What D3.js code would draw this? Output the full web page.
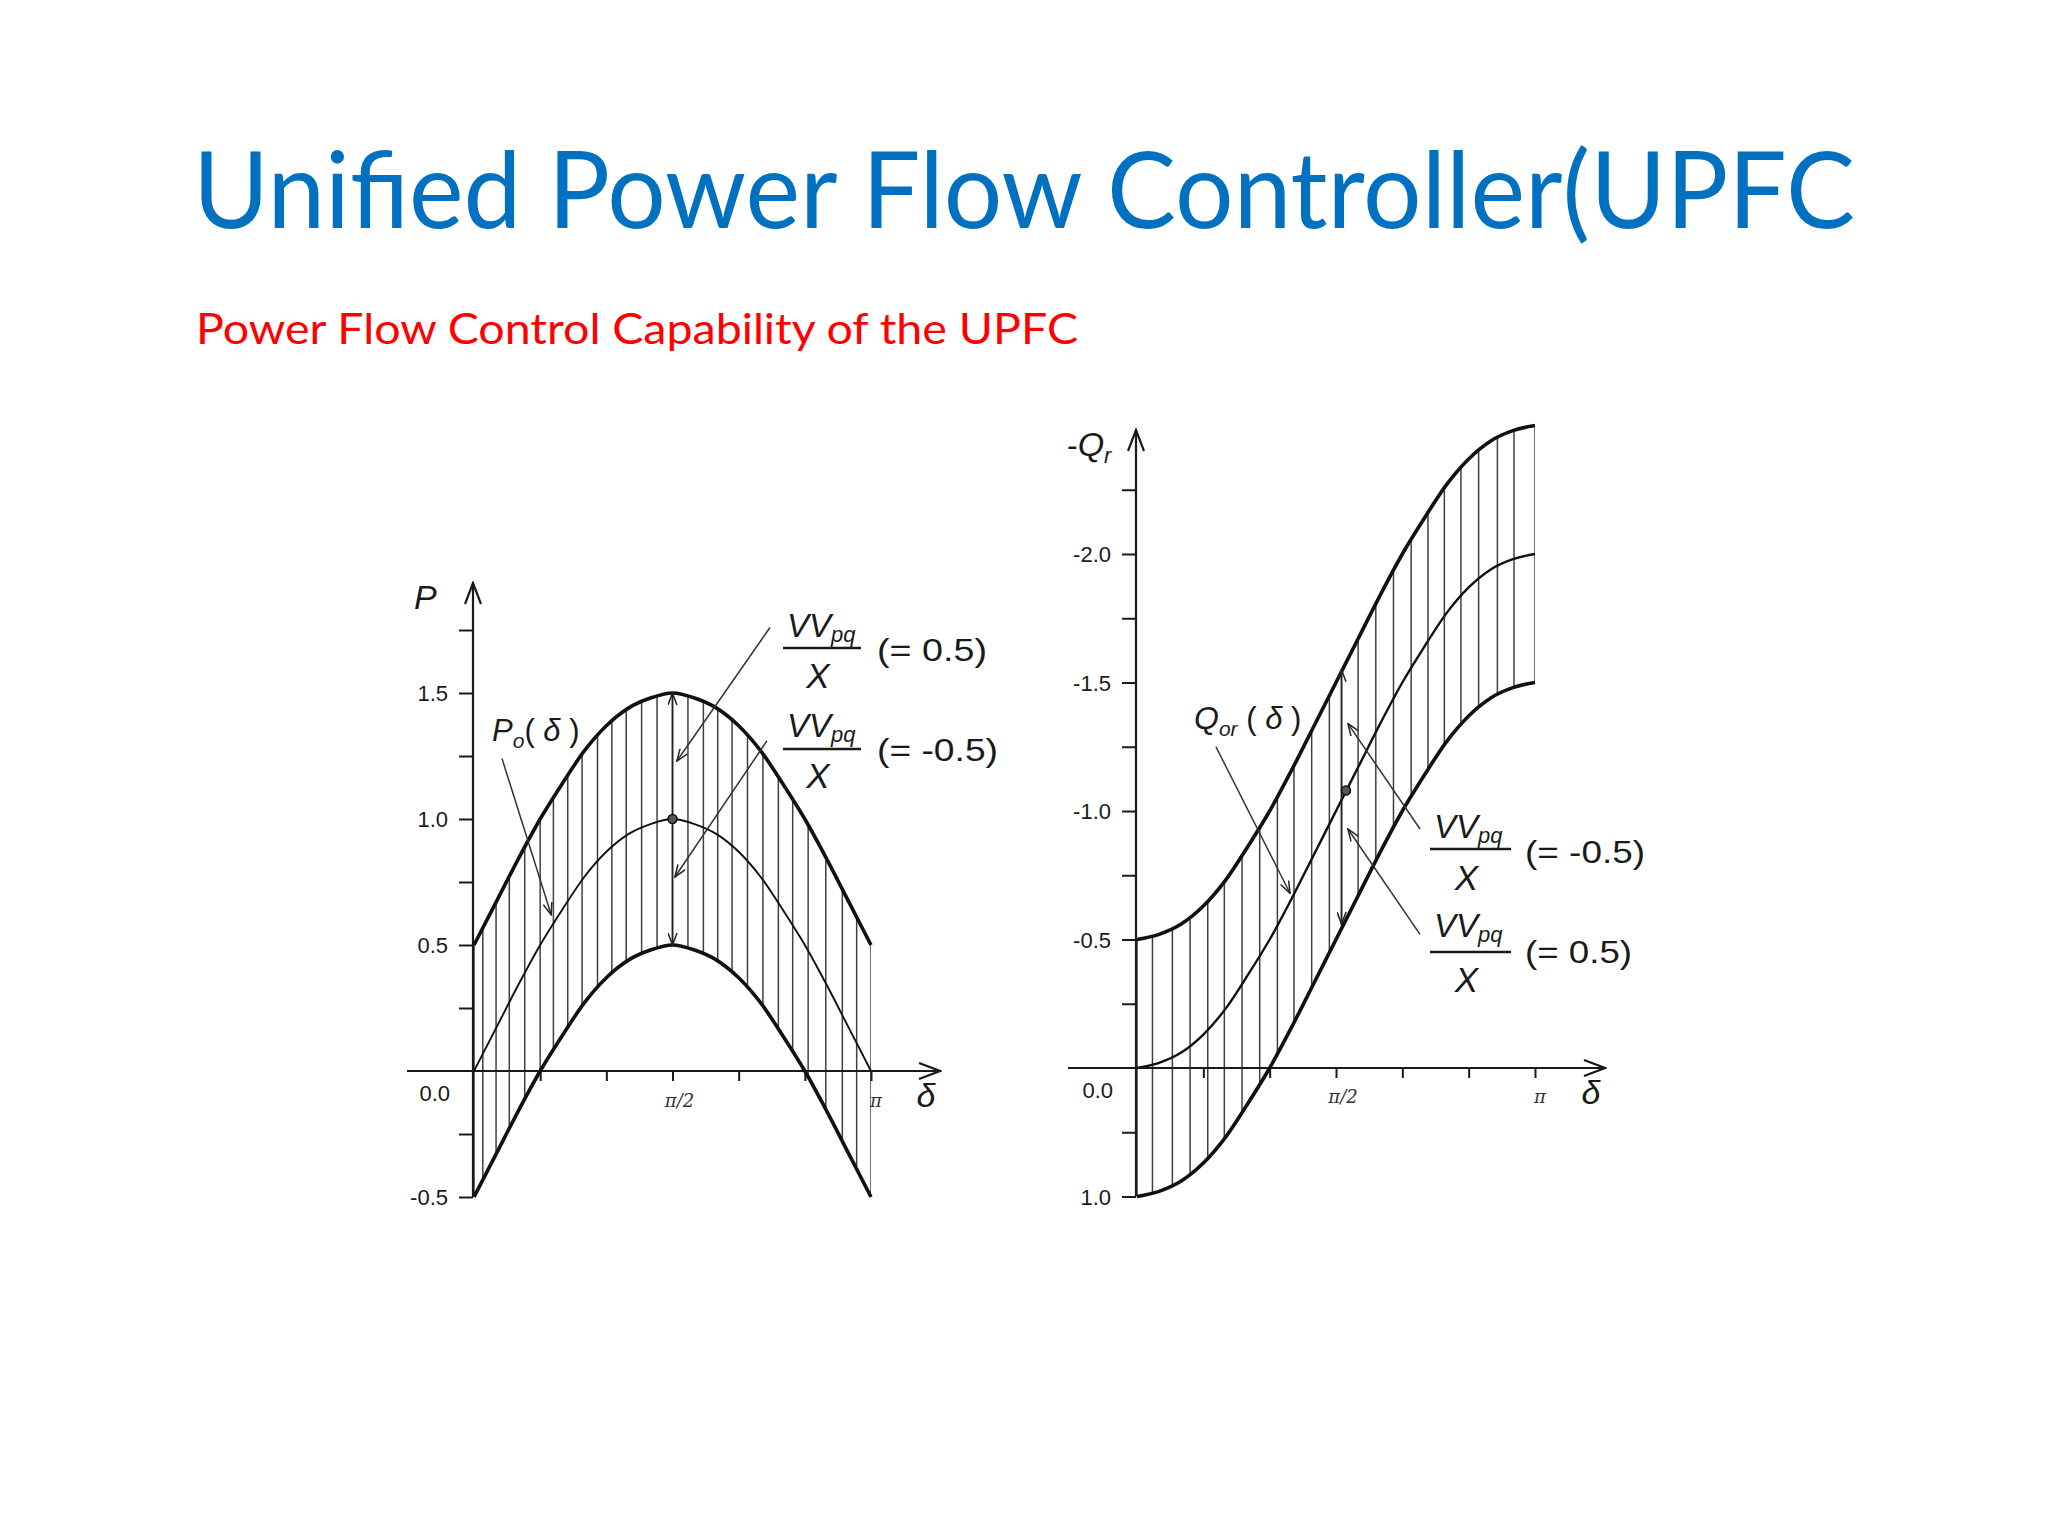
<!DOCTYPE html>
<html>
<head>
<meta charset="utf-8">
<script src="https://cdn.jsdelivr.net/npm/d3@7/dist/d3.min.js"></script>
<style>
  html, body { margin: 0; padding: 0; background: #ffffff; }
  svg { display: block; }
</style>
</head>
<body>
<script>
// ---------------- DATA ----------------
const deltaDeg = [0,10,20,30,40,50,60,70,80,90,100,110,120,130,140,150,160,170,180];

// Left panel: P(δ)
const pMid   = [0.00,0.17,0.34,0.50,0.64,0.77,0.87,0.94,0.98,1.00,0.98,0.94,0.87,0.77,0.64,0.50,0.34,0.17,0.00];
const pUpper = [0.50,0.67,0.84,1.00,1.14,1.27,1.37,1.44,1.48,1.50,1.48,1.44,1.37,1.27,1.14,1.00,0.84,0.67,0.50];
const pLower = [-0.50,-0.33,-0.16,0.00,0.14,0.27,0.37,0.44,0.48,0.50,0.48,0.44,0.37,0.27,0.14,0.00,-0.16,-0.33,-0.50];

// Right panel: -Qr(δ)
const qMid   = [0.00,0.02,0.06,0.13,0.23,0.36,0.50,0.66,0.83,1.00,1.17,1.34,1.50,1.64,1.77,1.87,1.94,1.98,2.00];
const qUpper = [0.50,0.52,0.56,0.63,0.73,0.86,1.00,1.16,1.33,1.50,1.67,1.84,2.00,2.14,2.27,2.37,2.44,2.48,2.50];
const qLower = [-0.50,-0.48,-0.44,-0.37,-0.27,-0.14,0.00,0.16,0.33,0.50,0.67,0.84,1.00,1.14,1.27,1.37,1.44,1.48,1.50];

// Hatch line positions (degrees)
const pHatch = [0,4,10,16,23,30,36,42.5,49,56,62.5,69,76,83,90,97,104,110.5,117,124,131,138,144.5,151.5,159.5,167,173.5,180];
const qHatch = [0,7,16,24,32,39.5,47.5,55.5,63.5,71,79,87,92.5,100,108,116,124,131.6,139,146.5,154.5,163,170.5,180];

// Ticks
const pTickValues = [-0.5,-0.25,0.25,0.5,0.75,1.0,1.25,1.5,1.75];
const pTickLabels = {"-0.5":"-0.5","0.5":"0.5","1":"1.0","1.5":"1.5"};
const qTickValues = [-0.5,-0.25,0.25,0.5,0.75,1.0,1.25,1.5,1.75,2.0,2.25];
const qTickLabels = {"-0.5":"1.0","0.5":"-0.5","1":"-1.0","1.5":"-1.5","2":"-2.0"};
const xTickValues = [30,60,90,120,150,180];
const xTickLabels = {"90":"π/2","180":"π"};

// Annotations (data coordinates: [δ, value])
const pArrows = [
  {from:[12.7,1.24], to:[35.0,0.62]},   // Po(δ)
  {from:[134.2,1.76], to:[92.0,1.23]},  // VVpq/X (=0.5)
  {from:[132.8,1.31], to:[91.1,0.77]}   // VVpq/X (=-0.5)
];
const pDouble = {d:90, top:1.5, bottom:0.5};
const pDot = [90, 1.0];

const qArrows = [
  {from:[35.7,1.25], to:[69.2,0.68]},   // Qor(δ)
  {from:[128.0,0.93], to:[95.4,1.34]},  // (=-0.5)
  {from:[128.0,0.52], to:[95.4,0.93]}   // (=0.5)
];
const qDouble = {d:92.5, top:1.55, bottom:0.56};
const qDot = [94.5, 1.08];

// ---------------- DRAW ----------------
const W = 2048, H = 1536;
const svg = d3.select("body").append("svg").attr("width", W).attr("height", H);
const defs = svg.append("defs");

defs.append("marker").attr("id","axh")
  .attr("viewBox","0 0 24 18").attr("refX",22).attr("refY",9)
  .attr("markerWidth",24).attr("markerHeight",18)
  .attr("markerUnits","userSpaceOnUse").attr("orient","auto")
  .append("path").attr("d","M1,1 L22,9 L1,17").attr("fill","none")
  .attr("stroke","#1a1a1a").attr("stroke-width",2.2);

defs.append("marker").attr("id","ah")
  .attr("viewBox","0 0 14 10").attr("refX",13).attr("refY",5)
  .attr("markerWidth",14).attr("markerHeight",10)
  .attr("markerUnits","userSpaceOnUse").attr("orient","auto-start-reverse")
  .append("path").attr("d","M1,0.5 L13,5 L1,9.5").attr("fill","none")
  .attr("stroke","#222").attr("stroke-width",1.5);

// Title & subtitle
svg.append("text").attr("x",193).attr("y",228)
  .attr("font-family","Lato, 'Open Sans', sans-serif").attr("font-size",106)
  .attr("fill","#0070C0").attr("textLength",1662).attr("lengthAdjust","spacingAndGlyphs")
  .text("Unified Power Flow Controller(UPFC");
svg.append("text").attr("x",196).attr("y",344)
  .attr("font-family","Lato, 'Open Sans', sans-serif").attr("font-size",42)
  .attr("fill","#FF0000").attr("textLength",882).attr("lengthAdjust","spacingAndGlyphs")
  .text("Power Flow Control Capability of the UPFC");

const ink = "#1a1a1a";
const sansF = "'Liberation Sans', Arial, Helvetica, sans-serif";

function panel(cfg) {
  const x = d3.scaleLinear().domain([0,180]).range(cfg.xr);
  const y = d3.scaleLinear().domain([0,1]).range(cfg.yr);
  const g = svg.append("g");
  const pts = arr => deltaDeg.map((d,i) => [d, arr[i]]);

  // clip region between curves
  const area = d3.area().x((d,i)=>x(deltaDeg[i])).y0((d,i)=>y(cfg.lower[i])).y1((d,i)=>y(cfg.upper[i]))
    .curve(d3.curveMonotoneX);
  defs.append("clipPath").attr("id", cfg.id + "clip")
    .append("path").attr("d", area(deltaDeg));

  // hatch lines
  g.append("g").attr("clip-path", `url(#${cfg.id}clip)`)
    .selectAll("line").data(cfg.hatch).join("line")
    .attr("x1", d=>x(d)).attr("x2", d=>x(d))
    .attr("y1", y(cfg.yMax)).attr("y2", y(cfg.yMin))
    .attr("stroke","#404040").attr("stroke-width",1.5);

  // y axis ticks
  const ya = d3.axisLeft(y).tickValues(cfg.yTicks).tickSize(14).tickPadding(11)
    .tickFormat(v => cfg.yLabels[String(v)] || "");
  const yg = g.append("g").attr("transform",`translate(${cfg.axisX},0)`).call(ya);
  yg.select(".domain").remove();
  yg.selectAll(".tick line").attr("stroke",ink).attr("stroke-width",2);
  yg.selectAll(".tick text").attr("font-family",sansF).attr("font-size",22).attr("fill",ink)
    .attr("dy","0.36em");

  // x axis ticks
  const xa = d3.axisBottom(x).tickValues(xTickValues).tickSize(10).tickFormat("");
  const xg = g.append("g").attr("transform",`translate(0,${y(0)})`).call(xa);
  xg.select(".domain").remove();
  xg.selectAll(".tick line").attr("stroke",ink).attr("stroke-width",2);

  // x tick labels
  g.selectAll(".xlab").data(xTickValues.filter(v => xTickLabels[String(v)])).join("text")
    .attr("x", d => x(d) + (d===90 ? 7 : 5)).attr("y", y(0) + cfg.xLabDy)
    .attr("text-anchor","middle")
    .attr("font-family","'DejaVu Serif', serif").attr("font-style","italic").attr("font-size",18)
    .attr("fill","#333").text(d => xTickLabels[String(d)]);

  // axis lines with arrows
  g.append("line").attr("x1",cfg.axisX).attr("x2",cfg.axisX)
    .attr("y1", y(cfg.yMin)).attr("y2", cfg.yTip)
    .attr("stroke",ink).attr("stroke-width",2.2).attr("marker-end","url(#axh)");
  g.append("line").attr("x1",cfg.xStart).attr("x2",cfg.xTip)
    .attr("y1", y(0)).attr("y2", y(0))
    .attr("stroke",ink).attr("stroke-width",2.2).attr("marker-end","url(#axh)");

  // zero label
  g.append("text").attr("x",cfg.axisX - 23).attr("y", y(0) + 30).attr("text-anchor","end")
    .attr("font-family",sansF).attr("font-size",22).attr("fill",ink).text("0.0");

  // δ label
  g.append("text").attr("x",cfg.xTip - 14).attr("y", y(0) + 36).attr("text-anchor","middle")
    .attr("font-family",sansF).attr("font-style","italic").attr("font-size",34)
    .attr("fill",ink).text("δ");

  // curves
  const line = d3.line().x(d=>x(d[0])).y(d=>y(d[1])).curve(d3.curveMonotoneX);
  g.append("path").attr("d", line(pts(cfg.upper))).attr("fill","none").attr("stroke","#111").attr("stroke-width",3.6);
  g.append("path").attr("d", line(pts(cfg.lower))).attr("fill","none").attr("stroke","#111").attr("stroke-width",3.6);
  g.append("path").attr("d", line(pts(cfg.mid))).attr("fill","none").attr("stroke","#111").attr("stroke-width",cfg.midW);

  // double arrow
  g.append("line").attr("x1",x(cfg.dbl.d)).attr("x2",x(cfg.dbl.d))
    .attr("y1",y(cfg.dbl.bottom)).attr("y2",y(cfg.dbl.top))
    .attr("stroke","#222").attr("stroke-width",1.6)
    .attr("marker-start","url(#ah)").attr("marker-end","url(#ah)");

  // annotation arrows
  g.selectAll(".ann").data(cfg.arrows).join("line")
    .attr("x1",d=>x(d.from[0])).attr("y1",d=>y(d.from[1]))
    .attr("x2",d=>x(d.to[0])).attr("y2",d=>y(d.to[1]))
    .attr("stroke","#333").attr("stroke-width",1.5).attr("marker-end","url(#ah)");

  // dot
  g.append("circle").attr("cx",x(cfg.dot[0])).attr("cy",y(cfg.dot[1])).attr("r",4.5)
    .attr("fill","#555").attr("stroke","#111").attr("stroke-width",1.6);

  return {x, y, g};
}

const L = panel({
  id:"L", xr:[474,871], yr:[1071,819], axisX:473,
  upper:pUpper, lower:pLower, mid:pMid, hatch:pHatch, midW:1.9,
  yTicks:pTickValues, yLabels:pTickLabels, yMin:-0.5, yMax:1.6,
  yTip:583, xStart:407, xTip:940, xLabDy:36,
  dbl:pDouble, arrows:pArrows, dot:pDot
});
const R = panel({
  id:"R", xr:[1137,1535], yr:[1068,811], axisX:1136,
  upper:qUpper, lower:qLower, mid:qMid, hatch:qHatch, midW:2.4,
  yTicks:qTickValues, yLabels:qTickLabels, yMin:-0.5, yMax:2.6,
  yTip:430, xStart:1068, xTip:1605, xLabDy:35,
  dbl:qDouble, arrows:qArrows, dot:qDot
});

// ---------- math labels ----------
function addText(x, y, parts, anchor) {
  const t = svg.append("text").attr("x",x).attr("y",y).attr("font-family",sansF).attr("fill",ink)
    .attr("text-anchor", anchor || "start");
  parts.forEach(p => {
    const s = t.append("tspan").text(p.t).attr("font-size",p.s || 31);
    if (p.i) s.attr("font-style","italic");
    if (p.dy) s.attr("dy",p.dy);
  });
  return t;
}

// axis titles
addText(414, 609, [{t:"P", i:true, s:34}]);
addText(1067, 456, [{t:"-", s:32},{t:"Q", i:true, s:34},{t:"r", i:true, s:22, dy:7}]);

// Po(δ)
addText(492, 741, [{t:"P", i:true, s:31},{t:"o", i:true, s:21, dy:7},{t:"(", s:31, dy:-7},{t:" δ", i:true, s:31},{t:" )", s:31}]);
// Qor(δ)
addText(1194, 729, [{t:"Q", i:true, s:32},{t:"or", i:true, s:21, dy:7},{t:" (", s:31, dy:-7},{t:" δ", i:true, s:31},{t:" )", s:31}]);

function fraction(xl, xr, numBase, barY, xBase, parenX, parenBase, parenText, parenLen) {
  addText(xl + 4, numBase, [{t:"VV", i:true, s:33},{t:"pq", i:true, s:22, dy:5}]);
  svg.append("line").attr("x1",xl).attr("x2",xr).attr("y1",barY).attr("y2",barY)
    .attr("stroke",ink).attr("stroke-width",2.4);
  addText((xl+xr)/2 - 4, xBase, [{t:"X", i:true, s:35}], "middle");
  svg.append("text").attr("x",parenX).attr("y",parenBase)
    .attr("font-family",sansF).attr("font-size",31).attr("fill",ink)
    .attr("textLength",parenLen).attr("lengthAdjust","spacingAndGlyphs").text(parenText);
}
fraction(783, 861, 637, 648, 688, 877, 661, "(= 0.5)", 110);
fraction(783, 861, 737, 749, 788, 877, 761, "(= -0.5)", 121);
fraction(1430, 1511, 838, 849, 890, 1525, 863, "(= -0.5)", 120);
fraction(1430, 1511, 937, 952, 992, 1525, 963, "(= 0.5)", 107);
</script>
</body>
</html>
